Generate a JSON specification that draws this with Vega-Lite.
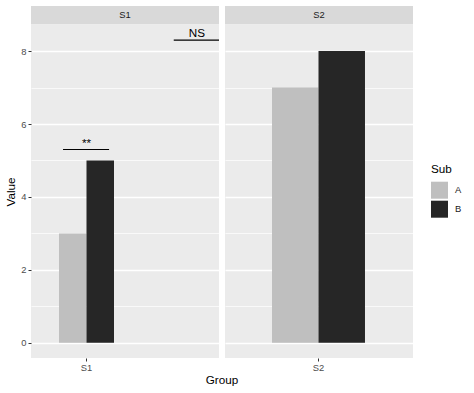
{
  "$schema": "https://vega.github.io/schema/vega-lite/v6.json",
  "background": "white",
  "padding": {"left": 5, "top": 6, "right": 0, "bottom": 4},
  "config": {
    "font": "Liberation Sans",
    "view": {"fill": "#EBEBEB", "stroke": null},
    "scale": {"offsetBandPaddingInner": 0, "offsetBandPaddingOuter": 0},
    "axis": {
      "labelFont": "Liberation Sans",
      "labelFontSize": 9.4,
      "labelColor": "#4D4D4D",
      "tickColor": "#333333",
      "tickSize": 3,
      "domain": false,
      "gridColor": "#FFFFFF",
      "gridWidth": 1.4,
      "titleFont": "Liberation Sans",
      "titleFontSize": 11.7,
      "titleFontWeight": "normal",
      "titleColor": "#000000"
    }
  },
  "datasets": {
    "bars": [
      {"Group": "S1", "Sub": "A", "Value": 3},
      {"Group": "S1", "Sub": "B", "Value": 5},
      {"Group": "S2", "Sub": "A", "Value": 7},
      {"Group": "S2", "Sub": "B", "Value": 8}
    ],
    "notes": [
      {"label": "**", "x": 0.615, "x2": 1.37, "y": 5.3, "lx": 1.0, "ly": 5.36},
      {"label": "NS", "x": 2.43, "x2": 3.3, "y": 8.3, "lx": 2.81, "ly": 8.38}
    ],
    "strips": [{"Group": "S1"}, {"Group": "S2"}]
  },
  "title": {
    "text": "Group",
    "orient": "bottom",
    "anchor": "middle",
    "fontSize": 11.7,
    "fontWeight": "normal",
    "color": "#000000",
    "font": "Liberation Sans",
    "offset": 4,
    "dx": -12
  },
  "resolve": {"scale": {"xOffset": "independent"}},
  "hconcat": [
    {
      "spacing": 0,
      "vconcat": [
        {
          "width": 188,
          "height": 18.5,
          "view": {"fill": "#D9D9D9", "stroke": null},
          "data": {"name": "strips"},
          "transform": [{"filter": "datum.Group == 'S1'"}],
          "mark": {"type": "text", "fontSize": 9.4, "color": "#1A1A1A", "baseline": "middle", "align": "center"},
          "encoding": {"text": {"field": "Group"}}
        },
        {
          "width": 188,
          "height": 333,
          "layer": [
            {
              "data": {"name": "bars"},
              "transform": [{"filter": "datum.Group == 'S1'"}],
              "mark": {"type": "bar"},
              "encoding": {
                "x": {
                  "field": "Group", "type": "nominal",
                  "scale": {"paddingInner": 0.1729, "paddingOuter": 1, "align": 0.2105},
                  "axis": {"title": null, "labelPadding": 2, "labelAngle": 0}
                },
                "xOffset": {"field": "Sub", "type": "nominal"},
                "y": {
                  "field": "Value", "type": "quantitative", "stack": null,
                  "scale": {"domain": [-0.415, 8.715], "nice": false, "zero": false},
                  "axis": {
                    "title": "Value",
                    "values": [0, 1, 2, 3, 4, 5, 6, 7, 8],
                    "labelExpr": "datum.value % 2 == 0 ? datum.label : ''",
                    "tickOpacity": {"condition": {"test": "datum.value % 2 == 1", "value": 0}, "value": 1},
                    "gridWidth": {"condition": {"test": "datum.value % 2 == 1", "value": 0.7}, "value": 1.4},
                    "labelPadding": 2,
                    "titlePadding": 4
                  }
                },
                "color": {
                  "field": "Sub", "type": "nominal",
                  "scale": {"domain": ["A", "B"], "range": ["#BFBFBF", "#262626"]},
                  "legend": {
                    "title": "Sub",
                    "orient": "none",
                    "legendX": 400,
                    "legendY": 158,
                    "titleFontSize": 11.7,
                    "titleFontWeight": "normal",
                    "titleColor": "#000000",
                    "titlePadding": 6,
                    "labelFontSize": 9.4,
                    "labelColor": "#1A1A1A",
                    "labelOffset": 7,
                    "symbolType": "square",
                    "symbolSize": 289,
                    "symbolStrokeWidth": 0,
                    "symbolOpacity": 1,
                    "rowPadding": 2
                  }
                }
              }
            },
            {
              "data": {"name": "notes"},
              "layer": [
                {
                  "mark": {"type": "rule", "color": "#000000", "strokeWidth": 1.1, "clip": true},
                  "encoding": {
                    "x": {"field": "x", "type": "quantitative", "scale": {"domain": [0.09, 3.172], "nice": false, "zero": false}, "axis": null},
                    "x2": {"field": "x2"},
                    "y": {"field": "y", "type": "quantitative"}
                  }
                },
                {
                  "mark": {"type": "text", "fontSize": 11.7, "color": "#000000", "align": "center", "baseline": "alphabetic"},
                  "encoding": {
                    "x": {"field": "lx", "type": "quantitative", "scale": {"domain": [0.09, 3.172], "nice": false, "zero": false}, "axis": null},
                    "y": {"field": "ly", "type": "quantitative"},
                    "text": {"field": "label"}
                  }
                }
              ]
            }
          ],
          "resolve": {"scale": {"x": "independent"}, "axis": {"x": "independent"}}
        }
      ]
    },
    {
      "spacing": 0,
      "vconcat": [
        {
          "width": 188,
          "height": 18.5,
          "view": {"fill": "#D9D9D9", "stroke": null},
          "data": {"name": "strips"},
          "transform": [{"filter": "datum.Group == 'S2'"}],
          "mark": {"type": "text", "fontSize": 9.4, "color": "#1A1A1A", "baseline": "middle", "align": "center"},
          "encoding": {"text": {"field": "Group"}}
        },
        {
          "width": 188,
          "height": 333,
          "data": {"name": "bars"},
          "transform": [{"filter": "datum.Group == 'S2'"}],
          "mark": {"type": "bar"},
          "encoding": {
            "x": {
              "field": "Group", "type": "nominal",
              "scale": {"paddingInner": 0, "paddingOuter": 0.511, "align": 0.4947},
              "axis": {"title": null, "labelPadding": 2, "labelAngle": 0}
            },
            "xOffset": {"field": "Sub", "type": "nominal"},
            "y": {
              "field": "Value", "type": "quantitative", "stack": null,
              "scale": {"domain": [-0.415, 8.715], "nice": false, "zero": false},
              "axis": {
                "title": null,
                "values": [0, 1, 2, 3, 4, 5, 6, 7, 8],
                "labels": false,
                "ticks": false,
                "gridWidth": {"condition": {"test": "datum.value % 2 == 1", "value": 0.7}, "value": 1.4}
              }
            },
            "color": {
              "field": "Sub", "type": "nominal",
              "scale": {"domain": ["A", "B"], "range": ["#BFBFBF", "#262626"]},
              "legend": null
            }
          }
        }
      ]
    }
  ],
  "spacing": 6
}
